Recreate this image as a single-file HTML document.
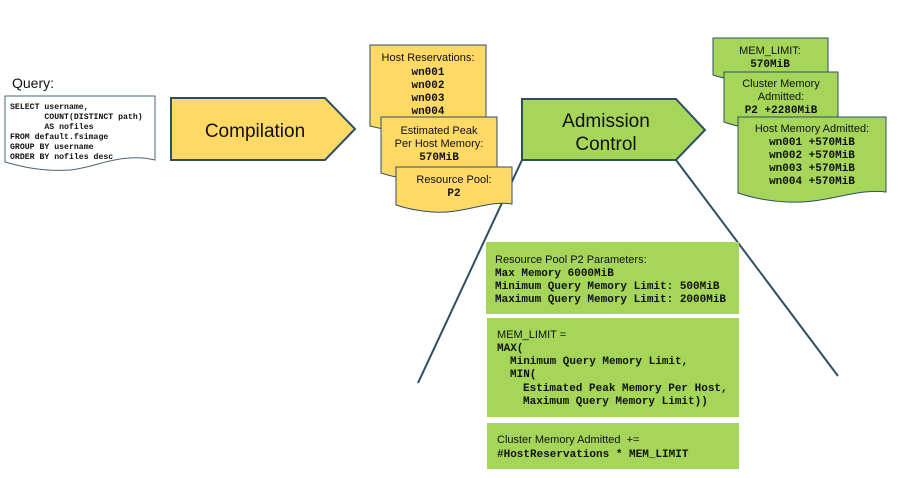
<!DOCTYPE html>
<html><head><meta charset="utf-8"><style>
html,body{margin:0;padding:0;background:#fff;}
svg{display:block;}
.s{font-family:"Liberation Sans",sans-serif;fill:#111;}
.m{font-family:"Liberation Mono",monospace;font-weight:bold;fill:#111;}
</style></head><body>
<svg width="902" height="478" viewBox="0 0 902 478" xmlns="http://www.w3.org/2000/svg">
<g stroke="#2e4f63" stroke-width="1.5">
<path d="M5,96 H155 V160 C120,152 95,168 70,170 C40,172 20,166 5,162 Z" fill="#fff" stroke="#4a6478" stroke-width="1"/>
<path d="M171,98 H325 L355,129 L325,160 H171 Z" fill="#ffd966" stroke-width="2"/>
<path d="M522,99 H676 L705,130 L676,160 H522 Z" fill="#a5d65a" stroke-width="2"/>
<line x1="522" y1="160" x2="418" y2="383" stroke-width="2"/>
<line x1="676" y1="160" x2="838" y2="376" stroke-width="2"/>
<path d="M370,45 H486 V125 C460,120 440,135 405,132 C390,131 378,128 370,126 Z" fill="#ffd966" stroke-width="1"/>
<path d="M381,117 H497 V172 C472,168 450,182 418,180 C402,179 390,176 381,173 Z" fill="#ffd966" stroke-width="1"/>
<path d="M396,167 H512 V204 C487,200 465,214 433,212 C417,211 405,208 396,205 Z" fill="#ffd966" stroke-width="1"/>
<path d="M713,38 H828 V74 C804,70 782,84 750,82 C735,81 722,78 713,75 Z" fill="#a5d65a" stroke-width="1"/>
<path d="M724,72 H838 V121 C814,117 792,131 760,129 C745,128 732,125 724,122 Z" fill="#a5d65a" stroke-width="1"/>
<path d="M738,117 H886 V192 C855,188 828,204 787,202 C766,201 750,197 738,193 Z" fill="#a5d65a" stroke-width="1"/>
</g>
<rect x="486" y="242" width="253" height="72" fill="#a5d65a"/>
<rect x="487" y="318" width="252" height="99" fill="#a5d65a"/>
<rect x="487" y="423" width="252" height="46" fill="#a5d65a"/>

<text class="s" x="12" y="88" font-size="14">Query:</text>
<g class="m" font-size="8.2">
<text x="10" y="109">SELECT username,</text>
<text x="10" y="119" xml:space="preserve">       COUNT(DISTINCT path)</text>
<text x="10" y="129" xml:space="preserve">       AS nofiles</text>
<text x="10" y="139">FROM default.fsimage</text>
<text x="10" y="149">GROUP BY username</text>
<text x="10" y="159">ORDER BY nofiles desc</text>
</g>
<text class="s" x="255" y="137" font-size="19" text-anchor="middle">Compilation</text>
<text class="s" x="606" y="127" font-size="19" text-anchor="middle">Admission</text>
<text class="s" x="606" y="150" font-size="19" text-anchor="middle">Control</text>

<g text-anchor="middle">
<text class="s" x="428" y="61" font-size="11">Host Reservations:</text>
<text class="m" x="428" y="75" font-size="11">wn001</text>
<text class="m" x="428" y="88" font-size="11">wn002</text>
<text class="m" x="428" y="101" font-size="11">wn003</text>
<text class="m" x="428" y="114" font-size="11">wn004</text>
<text class="s" x="439" y="134" font-size="11">Estimated Peak</text>
<text class="s" x="439" y="147" font-size="11">Per Host Memory:</text>
<text class="m" x="439" y="160" font-size="11">570MiB</text>
<text class="s" x="454" y="183" font-size="11">Resource Pool:</text>
<text class="m" x="454" y="196" font-size="11">P2</text>
<text class="s" x="770" y="54" font-size="11">MEM_LIMIT:</text>
<text class="m" x="770" y="67" font-size="11">570MiB</text>
<text class="s" x="781" y="87" font-size="11">Cluster Memory</text>
<text class="s" x="781" y="100" font-size="11">Admitted:</text>
<text class="m" x="781" y="113" font-size="11">P2 +2280MiB</text>
<text class="s" x="812" y="132" font-size="11">Host Memory Admitted:</text>
<text class="m" x="812" y="145" font-size="11">wn001 +570MiB</text>
<text class="m" x="812" y="158" font-size="11">wn002 +570MiB</text>
<text class="m" x="812" y="171" font-size="11">wn003 +570MiB</text>
<text class="m" x="812" y="184" font-size="11">wn004 +570MiB</text>
</g>

<text class="s" x="495" y="263" font-size="11">Resource Pool P2 Parameters:</text>
<text class="m" x="495" y="276" font-size="11">Max Memory 6000MiB</text>
<text class="m" x="495" y="289" font-size="11">Minimum Query Memory Limit: 500MiB</text>
<text class="m" x="495" y="302" font-size="11">Maximum Query Memory Limit: 2000MiB</text>

<text class="s" x="497" y="338" font-size="11">MEM_LIMIT =</text>
<text class="m" x="497" y="351" font-size="11">MAX(</text>
<text class="m" x="510" y="364" font-size="11">Minimum Query Memory Limit,</text>
<text class="m" x="510" y="377" font-size="11">MIN(</text>
<text class="m" x="523" y="391" font-size="11">Estimated Peak Memory Per Host,</text>
<text class="m" x="523" y="404" font-size="11">Maximum Query Memory Limit))</text>

<text class="s" x="497" y="443" font-size="11" xml:space="preserve">Cluster Memory Admitted  +=</text>
<text class="m" x="497" y="457" font-size="11">#HostReservations * MEM_LIMIT</text>
</svg>
</body></html>
